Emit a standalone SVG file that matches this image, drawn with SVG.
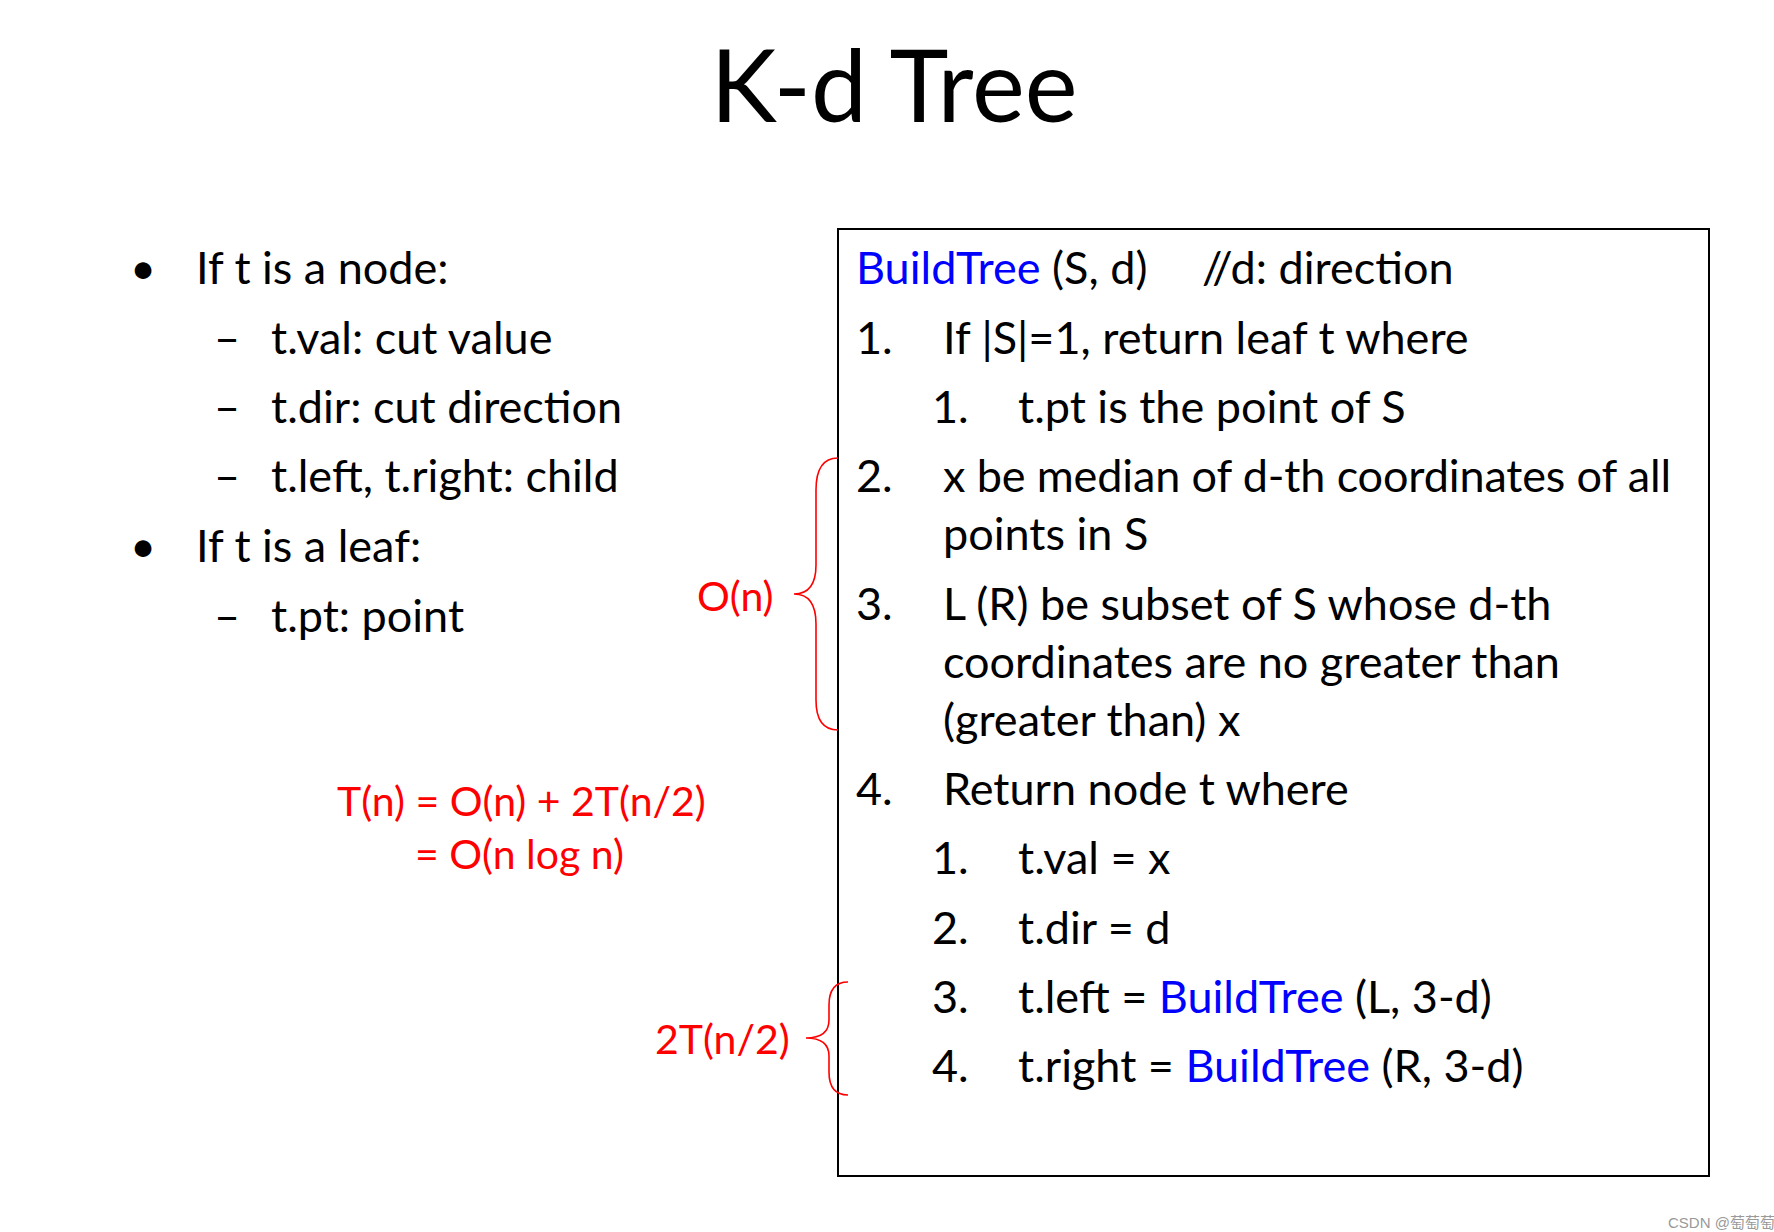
<svg xmlns="http://www.w3.org/2000/svg" width="1774" height="1232" viewBox="0 0 1774 1232">
<style>
text{font-family:Lato,"Open Sans","Liberation Sans",sans-serif;font-size:45px;fill:#000}
.r{fill:#ff0000;font-size:41px}
.b{fill:#0000ff}
.br{fill:none;stroke:#ff0000;stroke-width:1.6}
</style>
<rect width="1774" height="1232" fill="#fff"/>
<text x="894" y="122" text-anchor="middle" style="font-size:100px">K-d Tree</text>
<g id="left">
<text x="130" y="284">•</text><text x="196" y="284">If t is a node:</text>
<text x="214" y="354">–</text><text x="271" y="354">t.val: cut value</text>
<text x="214" y="423">–</text><text x="271" y="423">t.dir: cut direction</text>
<text x="214" y="492">–</text><text x="271" y="492">t.left, t.right: child</text>
<text x="130" y="562">•</text><text x="196" y="562">If t is a leaf:</text>
<text x="214" y="632">–</text><text x="271" y="632">t.pt: point</text>
</g>
<g id="box">
<rect x="838" y="229" width="871" height="947" fill="none" stroke="#000" stroke-width="2"/>
<text x="856" y="284"><tspan class="b">BuildTree</tspan> (S, d)</text><text x="1202" y="284">//d: direction</text>
<text x="856" y="354">1.</text><text x="943" y="354">If |S|=1, return leaf t where</text>
<text x="932" y="423">1.</text><text x="1018" y="423">t.pt is the point of S</text>
<text x="856" y="492">2.</text><text x="943" y="492" textLength="728">x be median of d-th coordinates of all</text>
<text x="943" y="550">points in S</text>
<text x="856" y="620">3.</text><text x="943" y="620">L (R) be subset of S whose d-th</text>
<text x="943" y="678">coordinates are no greater than</text>
<text x="943" y="736">(greater than) x</text>
<text x="856" y="805">4.</text><text x="943" y="805">Return node t where</text>
<text x="932" y="874">1.</text><text x="1018" y="874">t.val = x</text>
<text x="932" y="944">2.</text><text x="1018" y="944">t.dir = d</text>
<text x="932" y="1013">3.</text><text x="1018" y="1013">t.left = <tspan class="b">BuildTree</tspan> (L, 3-d)</text>
<text x="932" y="1082">4.</text><text x="1018" y="1082">t.right = <tspan class="b">BuildTree</tspan> (R, 3-d)</text>
</g>
<g id="annotations">
<path class="br" d="M838,458 Q816,458 816,490 L816,565 Q816,594 794,594 Q816,594 816,624 L816,700 Q816,730 838,730"/>
<text class="r" x="697" y="611">O(n)</text>
<path class="br" d="M848,982 Q829,982 829,1005 L829,1020 Q829,1038 806,1038 Q829,1038 829,1056 L829,1072 Q829,1095 848,1095"/>
<text class="r" x="655" y="1054">2T(n/2)</text>
<text class="r" x="337" y="816">T(n) = O(n) + 2T(n/2)</text>
<text class="r" x="415" y="869">= O(n log n)</text>
</g>
<text x="1668" y="1228" style="font-size:15px;fill:#999;font-family:'Liberation Sans','Noto Sans CJK SC',sans-serif">CSDN @萄萄萄</text>
</svg>
